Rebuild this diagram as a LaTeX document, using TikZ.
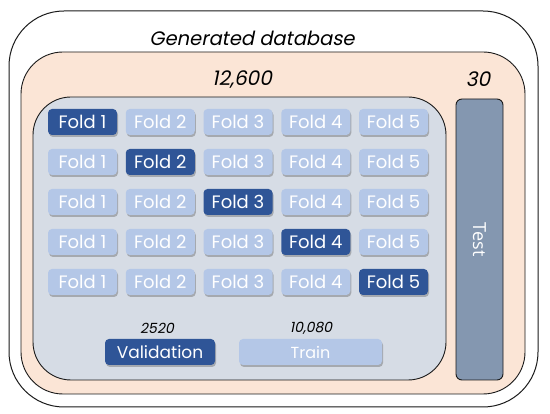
\documentclass[tikz,border=0pt]{standalone}
\usepackage{fontspec}
\setmainfont{Poppins}
\newfontfamily\itfont[FakeSlant=0.2]{Poppins}
\newfontfamily\testfont{Open Sans}
\usetikzlibrary{shadows}
\definecolor{outerline}{HTML}{1A1A1A}
\definecolor{peach}{HTML}{FBE5D6}
\definecolor{panel}{HTML}{D6DCE5}
\definecolor{testfill}{HTML}{8497B0}
\definecolor{darkfold}{HTML}{2F5597}
\definecolor{lightfold}{HTML}{B4C7E7}
\tikzset{
  box/.style={inner sep=0pt, outer sep=0pt, draw=outerline},
  foldbox/.style={inner sep=0pt, outer sep=0pt, minimum width=69pt, minimum height=26pt,
    rounded corners=4pt, text=white, font=\fontsize{18}{18}\selectfont,
    drop shadow={shadow xshift=1pt, shadow yshift=-2pt, opacity=0.35, fill=black!70}},
  dk/.style={foldbox, fill=darkfold},
  lt/.style={foldbox, fill=lightfold},
  lbl/.style={inner sep=0pt, font=\itfont\fontsize{20}{20}\selectfont},
  smlbl/.style={inner sep=0pt, font=\itfont\fontsize{14}{14}\selectfont},
}
\begin{document}
\begin{tikzpicture}[x=1pt,y=-1pt]
\useasboundingbox (0,0) rectangle (550,414);
\node[box, line width=1pt, fill=white, minimum width=529pt, minimum height=396pt, rounded corners=55pt] (outer) at (273.5,209) {};
\node[box, line width=0.9pt, fill=peach, minimum width=504pt, minimum height=342pt, rounded corners=42pt] (orange) at (273,223) {};
\node[box, line width=0.9pt, fill=panel, minimum width=413pt, minimum height=283pt, rounded corners=38pt] (panelbox) at (239.5,238.5) {};
\node[box, line width=0.9pt, fill=testfill, minimum width=47pt, minimum height=281pt, rounded corners=6pt] (test) at (479.5,239.5) {};
\node[text=white, rotate=-90, inner sep=0pt, font=\testfont\fontsize{18}{18}\selectfont] (testlbl) at (test.center) {Test};
\node[lbl, font=\itfont\fontsize{19.5}{19.5}\selectfont] (gen) at (252,38) {Generated database};
\node[lbl] (n12600) at (242,80) {12,600};
\node[lbl] (n30) at (478,79) {30};
\foreach \r in {1,...,5}{
  \foreach \c in {1,...,5}{
    \pgfmathsetmacro{\xx}{82.5+77.75*(\c-1)}
    \pgfmathsetmacro{\yy}{122+40*(\r-1)}
    \ifnum\r=\c
      \node[dk] (f\r\c) at (\xx,\yy) {Fold \c};
    \else
      \node[lt] (f\r\c) at (\xx,\yy) {Fold \c};
    \fi
  }
}
\node[dk, minimum width=110pt, font=\fontsize{17}{17}\selectfont] (val) at (160,352) {Validation};
\node[lt, minimum width=143pt, font=\fontsize{16}{16}\selectfont] (train) at (310.5,352) {Train};
\node[smlbl] (n2520) at (157,328) {2520};
\node[smlbl] (n10080) at (311,328) {10,080};
\end{tikzpicture}
\end{document}
